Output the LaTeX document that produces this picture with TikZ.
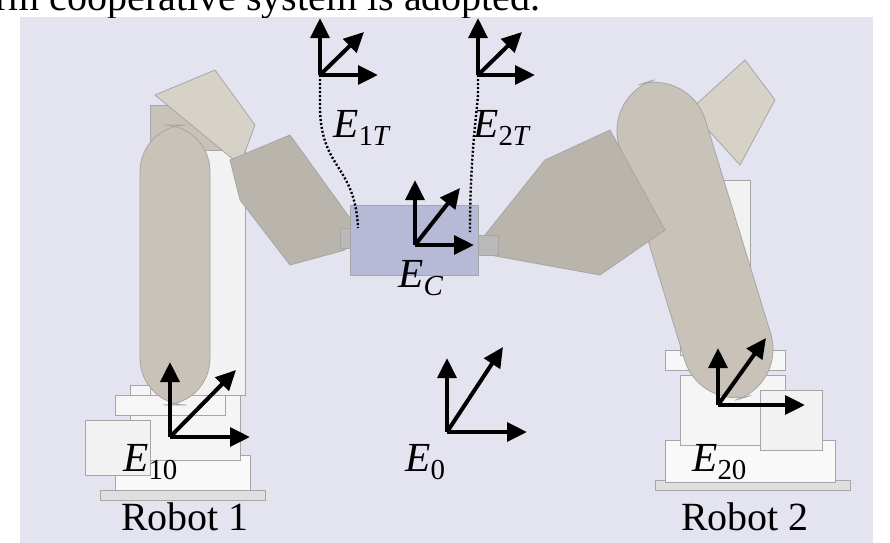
\documentclass[tikz,border=0pt]{standalone}
\usepackage{fontspec}
\setmainfont{Liberation Serif}
\usetikzlibrary{arrows.meta}
\definecolor{armA}{RGB}{200,194,184}
\definecolor{armB}{RGB}{215,210,200}
\definecolor{armC}{RGB}{185,180,172}
\definecolor{boxc}{RGB}{182,186,214}
\definecolor{bgc}{RGB}{228,228,240}
\begin{document}
\begin{tikzpicture}[x=0.75pt,y=-0.75pt,
  ax/.style={line width=3pt,-{Triangle[length=15pt,width=14pt]}},
  link/.style={fill=#1,draw=gray!70,line width=0.6pt},
  dot/.style={dash pattern=on 1.5pt off 1.5pt,line width=1.8pt},
  lab/.style={font=\fontsize{31}{31}\selectfont\itshape,inner sep=0pt},
  rob/.style={font=\fontsize{30}{30}\selectfont,inner sep=0pt}]
\useasboundingbox (0,0) rectangle (890,543);
\fill[white] (0,0) rectangle (890,543);
\fill[bgc] (20,17) rectangle (873,543);
\begin{scope}
\clip (0,0) rectangle (890,17);
\node[rob,anchor=base west] (top) at (-5,10) {rm cooperative system is adopted.};
\end{scope}
% ---- Robot 1 ----
\filldraw[link=gray!25] (100,490) rectangle (265,500);
\filldraw[link=white!95!gray] (115,455) rectangle (250,490);
\filldraw[link=white!92!gray] (130,385) rectangle (240,460);
\filldraw[link=white!90!gray] (85,420) rectangle (150,475);
\filldraw[link=white!93!gray] (115,395) rectangle (225,415);
\filldraw[link=white!90!gray] (150,150) rectangle (245,395);
\filldraw[link=armA] (150,105) rectangle (240,150);
\filldraw[link=armB] (155,95) -- (215,70) -- (255,125) -- (240,165) -- cycle;
\filldraw[link=armA,rounded corners=35pt] (140,125) rectangle (210,405);
\filldraw[link=armC] (230,160) -- (290,135) -- (355,225) -- (345,250) -- (290,265) -- (240,200) -- cycle;
\filldraw[link=gray!55] (340,228) rectangle (360,248);
% ---- Object ----
\filldraw[link=boxc] (350,205) rectangle (478,275);
% ---- Robot 2 ----
\filldraw[link=gray!25] (655,480) rectangle (850,490);
\filldraw[link=white!95!gray] (665,440) rectangle (835,482);
\filldraw[link=white!92!gray] (680,375) rectangle (785,445);
\filldraw[link=white!93!gray] (665,350) rectangle (785,370);
\filldraw[link=white!90!gray] (680,180) rectangle (750,355);
\filldraw[link=armB] (690,110) -- (745,60) -- (775,100) -- (740,165) -- cycle;
\filldraw[link=armA,rounded corners=40pt,rotate around={17:(695,240)}] (650,75) rectangle (740,405);
\filldraw[link=white!90!gray] (760,390) rectangle (822,450);
\filldraw[link=armC] (545,160) -- (610,130) -- (665,230) -- (600,275) -- (490,255) -- (485,235) -- cycle;
\filldraw[link=gray!55] (478,235) rectangle (498,255);
% ---- frames ----
\foreach \n/\ox/\oy/\ux/\uy/\dx/\dy/\rx in {
  t1/320/75/320/18/364/32/378,
  t2/478/75/478/18/522/32/535,
  c/415/245/415/180/460/188/474,
  o1/170/437/170/362/236/370/250,
  o0/447/432/447/358/503/347/527,
  o2/718/405/718/348/766/338/805}{
  \coordinate (\n o) at (\ox,\oy);
  \coordinate (\n u) at (\ux,\uy);
  \coordinate (\n d) at (\dx,\dy);
  \coordinate (\n r) at (\rx,\oy);
  \draw[ax] (\n o) -- (\n u);
  \draw[ax] (\n o) -- (\n d);
  \draw[ax] (\n o) -- (\n r);
}
\coordinate (g1) at (358,228);
\coordinate (g2) at (470,232);
\draw[dot] (t1o) -- (320,110) .. controls (322,170) and (355,165) .. (g1);
\draw[dot] (t2o) -- (478,95) .. controls (476,120) and (470,160) .. (g2);
\node[lab,anchor=west] (l1t) at (333,128) {E\textsubscript{\upshape 1\itshape T}};
\node[lab,anchor=west] (l2t) at (473,128) {E\textsubscript{\upshape 2\itshape T}};
\node[lab,anchor=west] (lc) at (398,278) {E\textsubscript{C}};
\node[lab,anchor=west] (l10) at (123,462) {E\textsubscript{\upshape 10}};
\node[lab,anchor=west] (l0) at (405,462) {E\textsubscript{\upshape 0}};
\node[lab,anchor=west] (l20) at (692,462) {E\textsubscript{\upshape 20}};
\node[rob,anchor=base] (r1) at (185,530) {Robot 1};
\node[rob,anchor=base] (r2) at (745,530) {Robot 2};
\end{tikzpicture}
\end{document}
